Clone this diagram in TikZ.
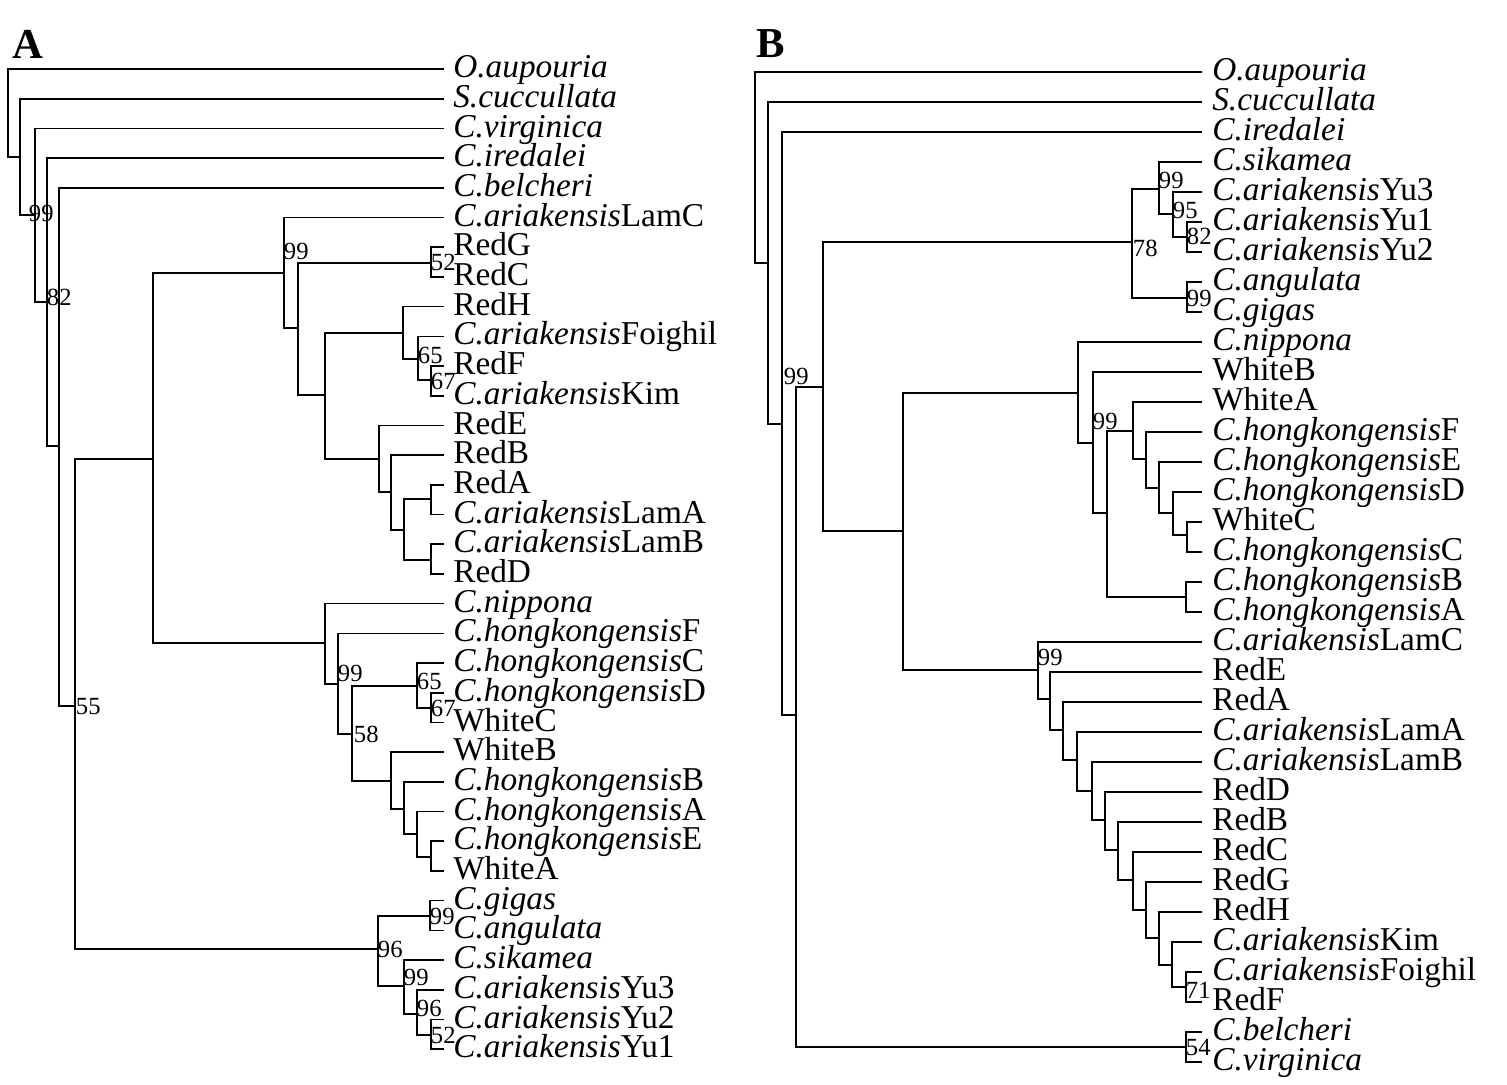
\documentclass[tikz,border=0pt]{standalone}
\usepackage{fontspec}
\setmainfont{Liberation Serif}
\newcommand\tclade[3]{\draw[br] (#2) -- (#1|-#2) -- (#1|-#3) -- (#3);}
\newcommand\lfA[3]{\coordinate (#1) at (443,{69+29.7*#2}); \node[lt] (#1t) at (453,{69+29.7*#2}) {#3};}
\newcommand\lfB[3]{\coordinate (#1) at (1201,{72+30*#2}); \node[lt] (#1t) at (1212,{72+30*#2}) {#3};}
\newcommand\Ci[1]{\textit{C.#1}}
\begin{document}
\begin{tikzpicture}[x=0.75pt,y=-0.75pt,
  br/.style={line width=1.2pt,line join=miter,line cap=rect},
  lt/.style={anchor=west,inner sep=0pt,text height=16.5pt,text depth=3.5pt,font=\fontsize{25}{27}\selectfont},
  bs/.style={anchor=west,inner sep=0.5pt,text height=12.5pt,text depth=0pt,font=\fontsize{18.5}{20}\selectfont},
  pl/.style={anchor=west,inner sep=0pt,font=\fontsize{32}{34}\selectfont\bfseries}]
\useasboundingbox (0,0) rectangle (1507,1085);
\node[pl] (pA) at (12,44) {A};
\node[pl] (pB) at (756,44) {B};
% ---------- Tree A leaves
\lfA{a0}{0}{\textit{O.aupouria}}
\lfA{a1}{1}{\textit{S.cuccullata}}
\lfA{a2}{2}{\Ci{virginica}}
\lfA{a3}{3}{\Ci{iredalei}}
\lfA{a4}{4}{\Ci{belcheri}}
\lfA{a5}{5}{\Ci{ariakensis}LamC}
\lfA{a6}{6}{RedG}
\lfA{a7}{7}{RedC}
\lfA{a8}{8}{RedH}
\lfA{a9}{9}{\Ci{ariakensis}Foighil}
\lfA{a10}{10}{RedF}
\lfA{a11}{11}{\Ci{ariakensis}Kim}
\lfA{a12}{12}{RedE}
\lfA{a13}{13}{RedB}
\lfA{a14}{14}{RedA}
\lfA{a15}{15}{\Ci{ariakensis}LamA}
\lfA{a16}{16}{\Ci{ariakensis}LamB}
\lfA{a17}{17}{RedD}
\lfA{a18}{18}{\Ci{nippona}}
\lfA{a19}{19}{\Ci{hongkongensis}F}
\lfA{a20}{20}{\Ci{hongkongensis}C}
\lfA{a21}{21}{\Ci{hongkongensis}D}
\lfA{a22}{22}{WhiteC}
\lfA{a23}{23}{WhiteB}
\lfA{a24}{24}{\Ci{hongkongensis}B}
\lfA{a25}{25}{\Ci{hongkongensis}A}
\lfA{a26}{26}{\Ci{hongkongensis}E}
\lfA{a27}{27}{WhiteA}
\lfA{a28}{28}{\Ci{gigas}}
\lfA{a29}{29}{\Ci{angulata}}
\lfA{a30}{30}{\Ci{sikamea}}
\lfA{a31}{31}{\Ci{ariakensis}Yu3}
\lfA{a32}{32}{\Ci{ariakensis}Yu2}
\lfA{a33}{33}{\Ci{ariakensis}Yu1}
% ---------- Tree A internal nodes
\coordinate (AR) at (8,0);
\coordinate (A1) at (20,157);
\coordinate (A2) at (35,215);
\coordinate (A3) at (47,302);
\coordinate (A4) at (59,446);
\coordinate (A5) at (75,706);
\coordinate (A6) at (153,459);
\coordinate (A7) at (378,949);
\coordinate (A8) at (284,273);
\coordinate (A10) at (298,328);
\coordinate (A11) at (431,263);
\coordinate (A12) at (325,395);
\coordinate (A13) at (403,333);
\coordinate (A15) at (418,359);
\coordinate (A16) at (431,380);
\coordinate (A14) at (379,459);
\coordinate (A17) at (391,492);
\coordinate (A18) at (404,530);
\coordinate (A19) at (431,499);
\coordinate (A20) at (431,560);
\coordinate (A9) at (325,643);
\coordinate (A21) at (338,684);
\coordinate (A22) at (352,734);
\coordinate (A23) at (417,686);
\coordinate (A25) at (431,708);
\coordinate (A24) at (391,781);
\coordinate (A26) at (404,809);
\coordinate (A27) at (417,834);
\coordinate (A28) at (431,857);
\coordinate (A29) at (430,916);
\coordinate (A30) at (404,986);
\coordinate (A31) at (417,1014);
\coordinate (A32) at (431,1035);
\tclade{AR}{a0}{A1}
\tclade{A1}{a1}{A2}
\tclade{A2}{a2}{A3}
\tclade{A3}{a3}{A4}
\tclade{A4}{a4}{A5}
\tclade{A5}{A6}{A7}
\tclade{A6}{A8}{A9}
\tclade{A8}{a5}{A10}
\tclade{A10}{A11}{A12}
\tclade{A11}{a6}{a7}
\tclade{A12}{A13}{A14}
\tclade{A13}{a8}{A15}
\tclade{A15}{a9}{A16}
\tclade{A16}{a10}{a11}
\tclade{A14}{a12}{A17}
\tclade{A17}{a13}{A18}
\tclade{A18}{A19}{A20}
\tclade{A19}{a14}{a15}
\tclade{A20}{a16}{a17}
\tclade{A9}{a18}{A21}
\tclade{A21}{a19}{A22}
\tclade{A22}{A23}{A24}
\tclade{A23}{a20}{A25}
\tclade{A25}{a21}{a22}
\tclade{A24}{a23}{A26}
\tclade{A26}{a24}{A27}
\tclade{A27}{a25}{A28}
\tclade{A28}{a26}{a27}
\tclade{A7}{A29}{A30}
\tclade{A29}{a28}{a29}
\tclade{A30}{a30}{A31}
\tclade{A31}{a31}{A32}
\tclade{A32}{a32}{a33}
% bootstrap A
\node[bs] (lA2) at (28,213) {99};
\node[bs] (lA3) at (46,297) {82};
\node[bs] (lA5) at (75,706) {55};
\node[bs] (lA8) at (283,251) {99};
\node[bs] (lA11) at (430,262) {52};
\node[bs] (lA15) at (417,355) {65};
\node[bs] (lA16) at (430,381) {67};
\node[bs] (lA21) at (337,673) {99};
\node[bs] (lA22) at (353,734) {58};
\node[bs] (lA23) at (416,681) {65};
\node[bs] (lA25) at (430,708) {67};
\node[bs] (lA7) at (377,949) {96};
\node[bs] (lA29) at (429,916) {99};
\node[bs] (lA30) at (403,977) {99};
\node[bs] (lA31) at (416,1008) {96};
\node[bs] (lA32) at (430,1035) {52};
% ---------- Tree B leaves
\lfB{b0}{0}{\textit{O.aupouria}}
\lfB{b1}{1}{\textit{S.cuccullata}}
\lfB{b2}{2}{\Ci{iredalei}}
\lfB{b3}{3}{\Ci{sikamea}}
\lfB{b4}{4}{\Ci{ariakensis}Yu3}
\lfB{b5}{5}{\Ci{ariakensis}Yu1}
\lfB{b6}{6}{\Ci{ariakensis}Yu2}
\lfB{b7}{7}{\Ci{angulata}}
\lfB{b8}{8}{\Ci{gigas}}
\lfB{b9}{9}{\Ci{nippona}}
\lfB{b10}{10}{WhiteB}
\lfB{b11}{11}{WhiteA}
\lfB{b12}{12}{\Ci{hongkongensis}F}
\lfB{b13}{13}{\Ci{hongkongensis}E}
\lfB{b14}{14}{\Ci{hongkongensis}D}
\lfB{b15}{15}{WhiteC}
\lfB{b16}{16}{\Ci{hongkongensis}C}
\lfB{b17}{17}{\Ci{hongkongensis}B}
\lfB{b18}{18}{\Ci{hongkongensis}A}
\lfB{b19}{19}{\Ci{ariakensis}LamC}
\lfB{b20}{20}{RedE}
\lfB{b21}{21}{RedA}
\lfB{b22}{22}{\Ci{ariakensis}LamA}
\lfB{b23}{23}{\Ci{ariakensis}LamB}
\lfB{b24}{24}{RedD}
\lfB{b25}{25}{RedB}
\lfB{b26}{26}{RedC}
\lfB{b27}{27}{RedG}
\lfB{b28}{28}{RedH}
\lfB{b29}{29}{\Ci{ariakensis}Kim}
\lfB{b30}{30}{\Ci{ariakensis}Foighil}
\lfB{b31}{31}{RedF}
\lfB{b32}{32}{\Ci{belcheri}}
\lfB{b33}{33}{\Ci{virginica}}
% ---------- Tree B internal nodes
\coordinate (BR) at (755,0);
\coordinate (B1) at (768,263);
\coordinate (B2) at (782,424);
\coordinate (B3) at (796,715);
\coordinate (B4) at (823,387);
\coordinate (B5) at (1132,242);
\coordinate (B7) at (1159,189);
\coordinate (B9) at (1173,214);
\coordinate (B10) at (1187,237);
\coordinate (B8) at (1187,298);
\coordinate (B6) at (903,531);
\coordinate (B11) at (1078,393);
\coordinate (B13) at (1093,443);
\coordinate (B14) at (1107,513);
\coordinate (B15) at (1133,431);
\coordinate (B17) at (1146,459);
\coordinate (B18) at (1159,488);
\coordinate (B19) at (1173,513);
\coordinate (B20) at (1187,535);
\coordinate (B16) at (1186,597);
\coordinate (B12) at (1038,670);
\coordinate (B21) at (1050,699);
\coordinate (B22) at (1063,730);
\coordinate (B23) at (1077,760);
\coordinate (B24) at (1092,791);
\coordinate (B25) at (1105,820);
\coordinate (B26) at (1118,850);
\coordinate (B27) at (1133,880);
\coordinate (B28) at (1146,910);
\coordinate (B29) at (1159,938);
\coordinate (B30) at (1172,965);
\coordinate (B31) at (1186,987);
\coordinate (Bbv) at (1186,1047);
\tclade{BR}{b0}{B1}
\tclade{B1}{b1}{B2}
\tclade{B2}{b2}{B3}
\tclade{B3}{B4}{Bbv}
\tclade{B4}{B5}{B6}
\tclade{B5}{B7}{B8}
\tclade{B7}{b3}{B9}
\tclade{B9}{b4}{B10}
\tclade{B10}{b5}{b6}
\tclade{B8}{b7}{b8}
\tclade{B6}{B11}{B12}
\tclade{B11}{b9}{B13}
\tclade{B13}{b10}{B14}
\tclade{B14}{B15}{B16}
\tclade{B15}{b11}{B17}
\tclade{B17}{b12}{B18}
\tclade{B18}{b13}{B19}
\tclade{B19}{b14}{B20}
\tclade{B20}{b15}{b16}
\tclade{B16}{b17}{b18}
\tclade{B12}{b19}{B21}
\tclade{B21}{b20}{B22}
\tclade{B22}{b21}{B23}
\tclade{B23}{b22}{B24}
\tclade{B24}{b23}{B25}
\tclade{B25}{b24}{B26}
\tclade{B26}{b25}{B27}
\tclade{B27}{b26}{B28}
\tclade{B28}{b27}{B29}
\tclade{B29}{b28}{B30}
\tclade{B30}{b29}{B31}
\tclade{B31}{b30}{b31}
\tclade{Bbv}{b32}{b33}
% bootstrap B
\node[bs] (lB3) at (783,376) {99};
\node[bs] (lB5) at (1132,248) {78};
\node[bs] (lB7) at (1158,180) {99};
\node[bs] (lB9) at (1172,210) {95};
\node[bs] (lB10) at (1186,236) {82};
\node[bs] (lB8) at (1186,298) {99};
\node[bs] (lB13) at (1092,421) {99};
\node[bs] (lB12) at (1037,657) {99};
\node[bs] (lB31) at (1185,990) {71};
\node[bs] (lBbv) at (1185,1047) {54};
\end{tikzpicture}
\end{document}
